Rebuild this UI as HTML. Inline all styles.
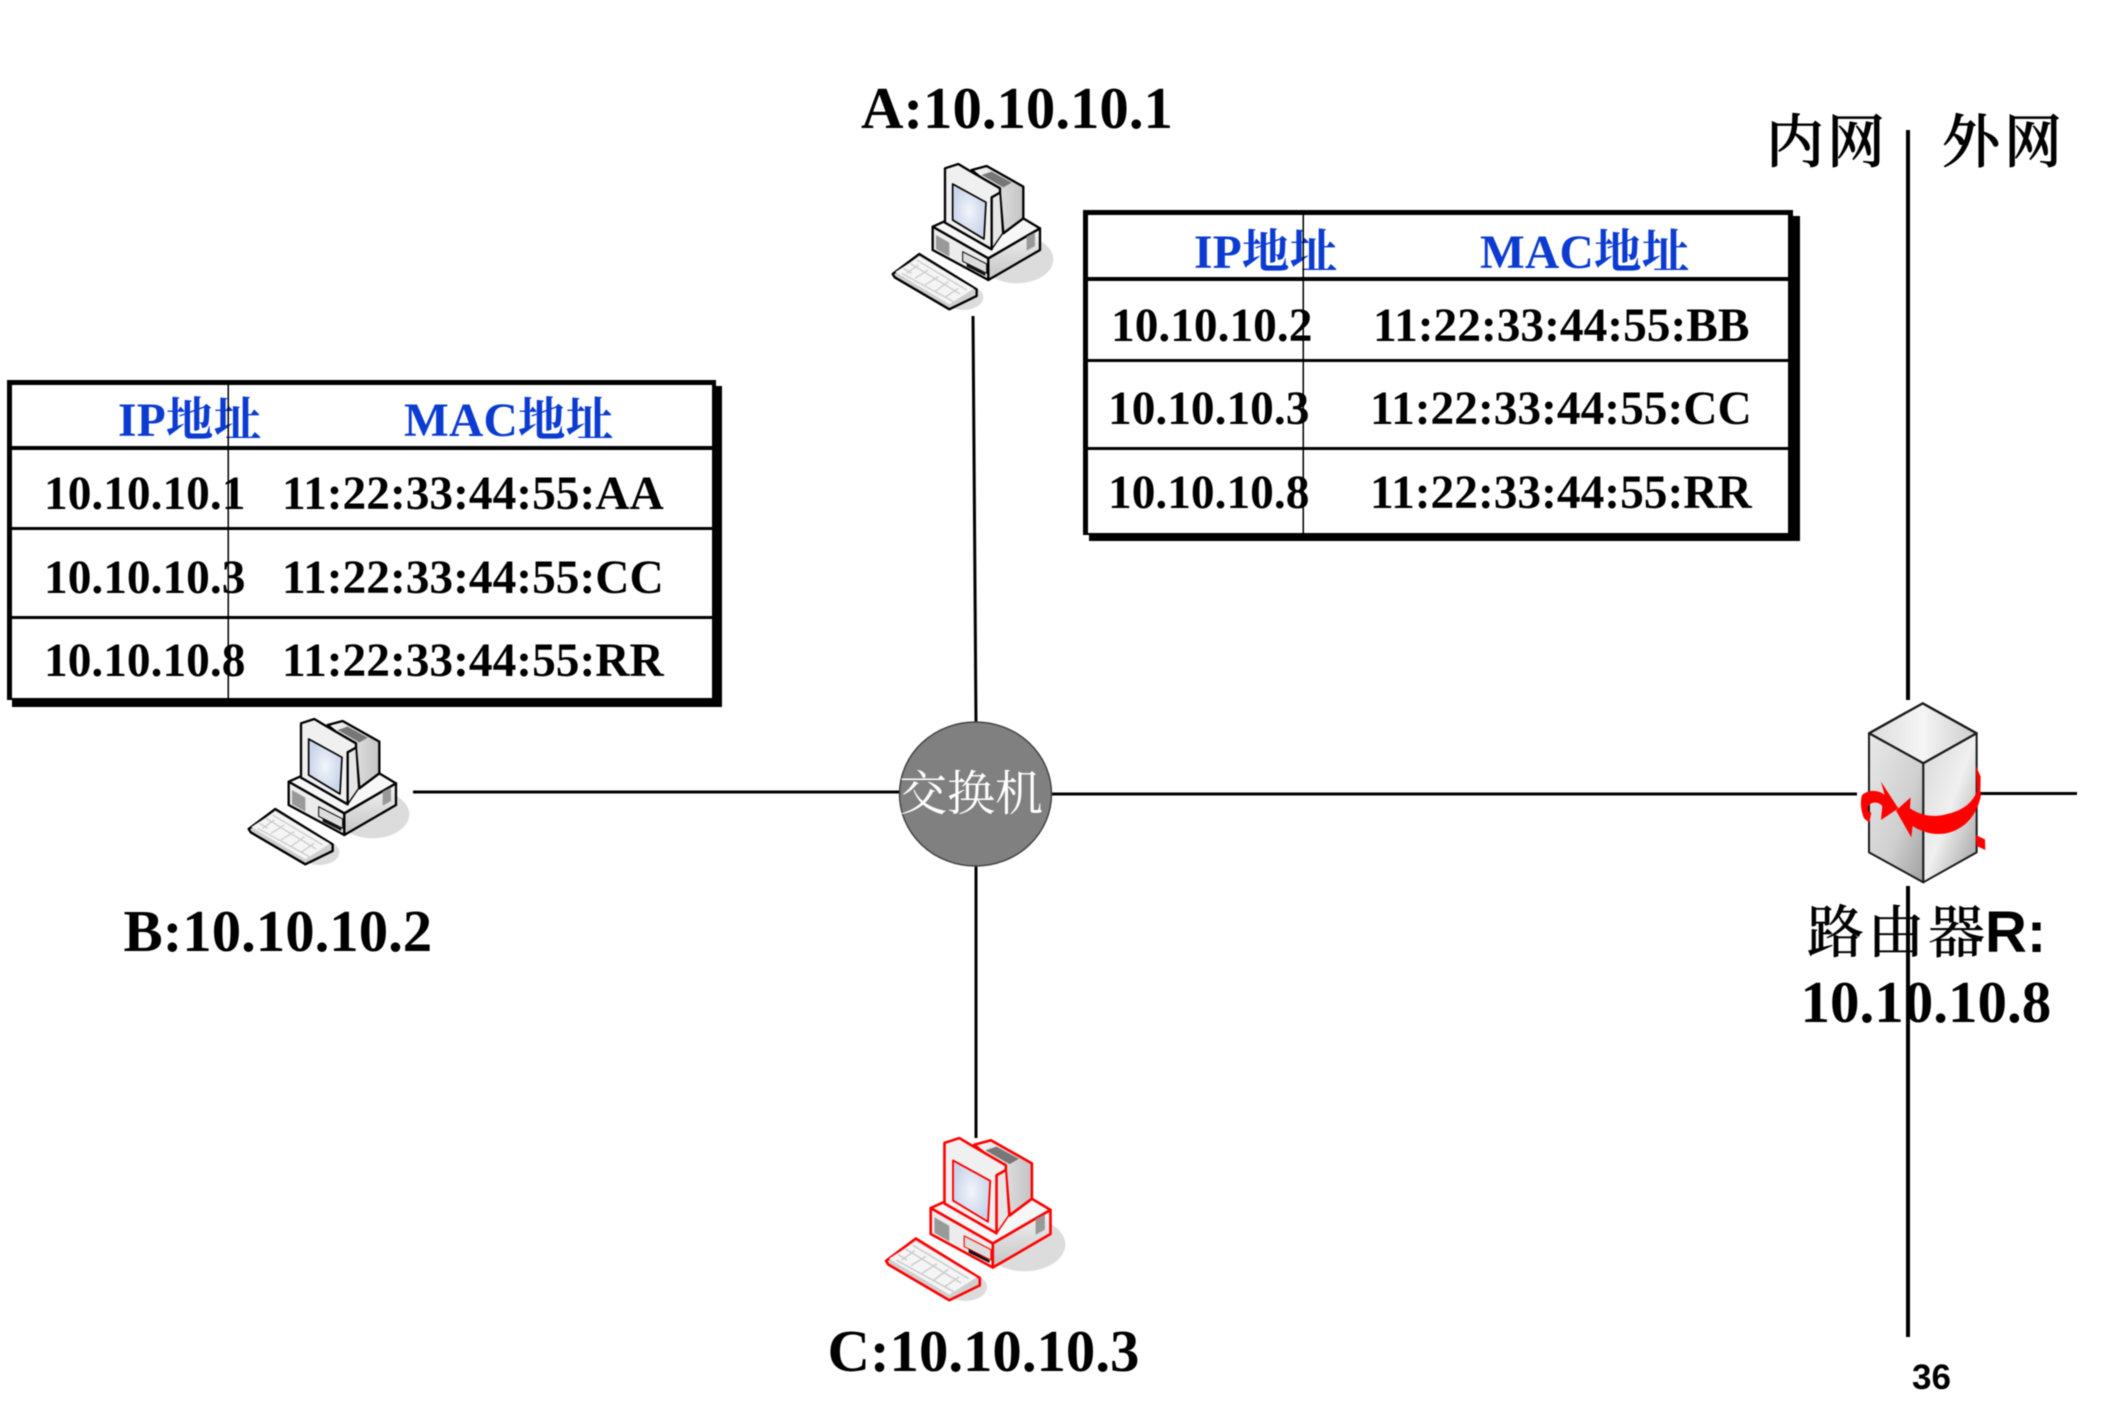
<!DOCTYPE html>
<html><head><meta charset="utf-8"><style>
html,body{margin:0;padding:0;background:#fff}
svg{display:block;filter:blur(.65px)}
.s{font-family:"Liberation Serif","Noto Serif CJK SC",serif;font-weight:700;fill:#000}
.t{font-size:47.4px}
.b{font-size:47.4px;fill:#0b3bd0}
.l{font-size:58.8px}
.c{font-family:"Liberation Serif","Noto Serif CJK SC",serif;fill:#000;stroke:#000;stroke-width:.8px;font-size:58px;font-weight:500}
</style></head><body>
<svg width="2117" height="1412" viewBox="0 0 2117 1412" xmlns="http://www.w3.org/2000/svg">
<defs>
<linearGradient id="g1" x1="0" y1="0" x2="0" y2="1"><stop offset="0" stop-color="#f4f4f4"/><stop offset="1" stop-color="#c4c4c4"/></linearGradient>
<linearGradient id="g2" x1="0" y1="0" x2="1" y2="0"><stop offset="0" stop-color="#fafafa"/><stop offset="1" stop-color="#c4c4c4"/></linearGradient>
<linearGradient id="g3" x1="0" y1="0" x2="1" y2="1"><stop offset="0" stop-color="#e9e9e9"/><stop offset=".6" stop-color="#cfcfcf"/><stop offset="1" stop-color="#a0a0a0"/></linearGradient>
<linearGradient id="g4" x1="0" y1="0" x2="1" y2="1"><stop offset="0" stop-color="#d8d8d8"/><stop offset=".5" stop-color="#f0f0f0"/><stop offset="1" stop-color="#9c9c9c"/></linearGradient>
<linearGradient id="g5" x1="0" y1="0" x2="1" y2="0"><stop offset="0" stop-color="#dcdcdc"/><stop offset=".5" stop-color="#f5f5f5"/><stop offset="1" stop-color="#cccccc"/></linearGradient>
<radialGradient id="sc"><stop offset="0" stop-color="#f2f5fb"/><stop offset="1" stop-color="#c9d5ea"/></radialGradient>
<g id="pc" stroke="currentColor" stroke-linejoin="round">
<ellipse cx="470" cy="598" rx="110" ry="72" fill="#dcdcdc" stroke="none"/>
<ellipse cx="310" cy="712" rx="60" ry="38" fill="#dcdcdc" stroke="none"/>
<path d="M218 500L385 595V660L218 570Z" fill="#ececec" stroke-width="7"/>
<path d="M385 595L540 505V570L385 660Z" fill="url(#g1)" stroke-width="7"/>
<path d="M218 500L258 482L430 520L490 475L540 505L385 595Z" fill="#f7f7f7" stroke-width="7"/>
<path d="M228 525L268 548V590L228 567ZM500 530L525 517V558L500 572Z" fill="#999" stroke="none"/>
<path d="M308 575L380 612V640L308 604Z" fill="#ddd" stroke-width="3"/>
<path d="M320 610L376 640V648L320 620Z" fill="#111" stroke="none"/>
<path d="M335 330L380 318L490 380V475L430 520L420 400Z" fill="url(#g2)" stroke-width="7"/>
<path d="M365 345L395 335L455 368L430 382Z" fill="#777" stroke="none"/>
<path d="M420 398L395 412V568L428 520Z" fill="#e6e6e6" stroke-width="4"/>
<path d="M255 325L295 312L325 330L420 385L420 398L395 412V568L255 488Z" fill="#f0f0f0" stroke-width="7"/>
<path d="M278 372L378 427L372 537L278 480Z" fill="url(#sc)" stroke-width="5"/>
<path d="M98 642L178 582L350 688V708L268 748L104 652Z" fill="#cfcfcf" stroke-width="7"/>
<path d="M106 636L178 590L342 686L268 733Z" fill="#f5f5f5" stroke="none"/>
<path d="M130 625L155 640M150 610L300 702M170 600L320 690M125 640L280 725M175 615L140 640M205 630L165 655M235 650L195 675M265 665L225 695M295 685L255 712" stroke="#ccc" stroke-width="4" fill="none"/>
</g>
</defs>

<rect width="2117" height="1412" fill="#fff"/>

<!-- connectors -->
<g stroke="#000" fill="none">
<path d="M973 316L976 724" stroke-width="3"/>
<path d="M413 792H902" stroke-width="3"/>
<path d="M1050 794H1857" stroke-width="3"/>
<path d="M1980 793.500H2077" stroke-width="3"/>
<path d="M976 860V1138" stroke-width="3"/>
</g>

<!-- switch -->
<ellipse cx="975.500" cy="794" rx="76" ry="72" fill="#808080" stroke="#444" stroke-width="1.500"/>
<text x="971" y="810" text-anchor="middle" style="font-family:'Liberation Serif','Noto Serif CJK SC',serif;font-size:48px;fill:#fff">交换机</text>

<!-- computers -->
<g color="#000"><use href="#pc" transform="translate(860 60) scale(.3333)"/></g>
<g color="#000"><use href="#pc" transform="translate(216 615) scale(.3333)"/></g>
<g color="#f00"><use href="#pc" transform="translate(849.600 1022) scale(.3720)"/></g>

<!-- router -->
<g transform="translate(1800 680) scale(.3333)" stroke="#1a1a1a" stroke-width="7" stroke-linejoin="round">
<path d="M207 160L368 70L530 160L370 250Z" fill="url(#g5)"/>
<path d="M207 160L370 250V607L207 517Z" fill="url(#g3)" stroke-width="6"/>
<path d="M370 250L530 160V517L370 607Z" fill="url(#g4)" stroke-width="6"/>
<g fill="#f00" stroke="none">
<path d="M186 345C210 325 240 332 254 345L243 305L295 385L243 420L247 378C232 362 212 366 204 380L204 395L214 398L208 428L192 415C182 390 180 365 186 345Z"/>
<path d="M544 340C530 425 470 462 415 462C385 462 355 450 338 438L334 472L288 392L332 352L330 385C360 405 395 412 430 405C480 395 515 375 530 335Z"/>
<path d="M528 258L542 290L541 342L531 340Z"/>
<path d="M527 465L555 478L556 510L530 498Z"/>
</g>
</g>

<!-- divider -->
<path d="M1908 130V700M1908 886V1337" stroke="#000" stroke-width="4"/>

<!-- table B -->
<g>
<rect x="12" y="386" width="710" height="321" fill="#000"/>
<rect x="7" y="380" width="709" height="320" fill="#000"/>
<rect x="12" y="385" width="700" height="313" fill="#fff"/>
<rect x="12" y="446" width="700" height="4" fill="#000"/>
<rect x="12" y="527" width="700" height="3" fill="#000"/>
<rect x="12" y="616" width="700" height="3" fill="#000"/>
<text class="s b" x="118" y="436" textLength="143">IP地址</text>
<text class="s b" x="404" y="436" textLength="209">MAC地址</text>
<text class="s t" x="44" y="509">10.10.10.1</text>
<text class="s t" x="282" y="509">11:22:33:44:55:AA</text>
<text class="s t" x="44" y="593">10.10.10.3</text>
<text class="s t" x="282" y="593">11:22:33:44:55:CC</text>
<text class="s t" x="44" y="676">10.10.10.8</text>
<text class="s t" x="282" y="676">11:22:33:44:55:RR</text>
<rect x="227.500" y="385" width="1.500" height="313" fill="#000"/>
</g>

<!-- table A -->
<g>
<rect x="1089" y="216" width="711" height="325" fill="#000"/>
<rect x="1083" y="210" width="710" height="325" fill="#000"/>
<rect x="1088" y="215" width="700" height="318" fill="#fff"/>
<rect x="1088" y="277" width="700" height="4" fill="#000"/>
<rect x="1088" y="359" width="700" height="3" fill="#000"/>
<rect x="1088" y="447" width="700" height="3" fill="#000"/>
<text class="s b" x="1194" y="268" textLength="143">IP地址</text>
<text class="s b" x="1480" y="268" textLength="209">MAC地址</text>
<text class="s t" x="1111" y="341">10.10.10.2</text>
<text class="s t" x="1373" y="341">11:22:33:44:55:BB</text>
<text class="s t" x="1108" y="424">10.10.10.3</text>
<text class="s t" x="1370" y="424">11:22:33:44:55:CC</text>
<text class="s t" x="1108" y="508">10.10.10.8</text>
<text class="s t" x="1370" y="508">11:22:33:44:55:RR</text>
<rect x="1302.500" y="215" width="1.500" height="318" fill="#000"/>
</g>

<!-- labels -->
<text class="s l" x="861" y="128">A:10.10.10.1</text>
<text class="s l" x="123.500" y="951">B:10.10.10.2</text>
<text class="s l" x="827.500" y="1371">C:10.10.10.3</text>
<text class="c" x="1766" y="162" textLength="119">内网</text>
<text class="c" x="1942" y="162" textLength="120">外网</text>
<text class="c" x="1807" y="952" textLength="178" style="font-size:57px;stroke-width:.3px">路由器</text>
<text x="1985" y="952" style="font-family:'Liberation Sans',sans-serif;font-weight:700;font-size:58px">R:</text>
<text class="s l" style="font-size:59px" x="1800.500" y="1022">10.10.10.8</text>
<text x="1912" y="1389" style="font-family:'Liberation Sans',sans-serif;font-weight:700;font-size:35px">36</text>
</svg>
</body></html>
